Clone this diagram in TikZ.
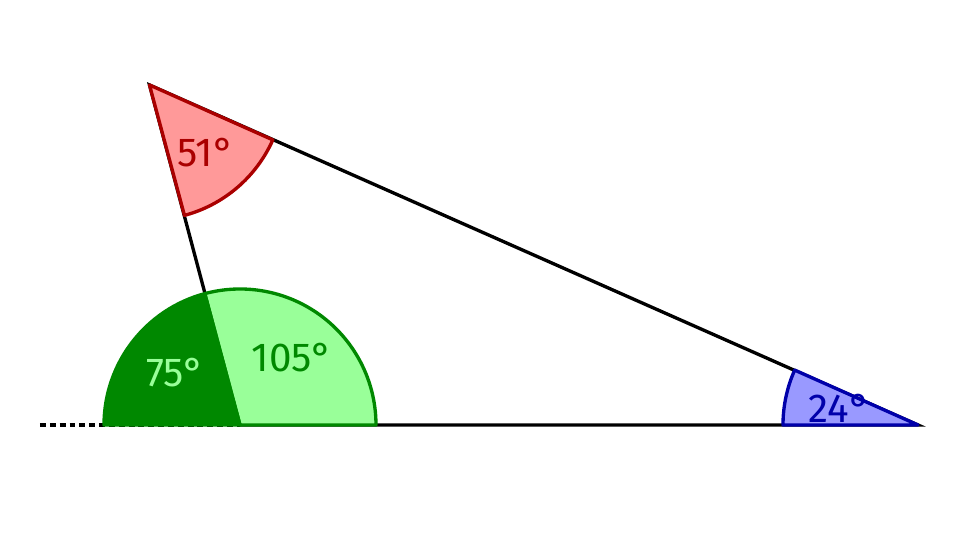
\documentclass[tikz,border=0pt]{standalone}
\usepackage{fontspec}
\setmainfont{Fira Sans}
\usepackage{tikz}
\usetikzlibrary{calc}
\definecolor{myred}{RGB}{170,0,0}
\definecolor{mylightred}{RGB}{255,153,153}
\definecolor{mygreen}{RGB}{0,136,0}
\definecolor{mylightgreen}{RGB}{153,255,153}
\definecolor{myblue}{RGB}{0,0,170}
\definecolor{mylightblue}{RGB}{153,153,255}
\tikzset{
  side/.style={line width=0.95pt,black},
  sector/.style={line width=0.95pt,line join=round},
  anglabel/.style={font=\fontsize{11.5}{13}\selectfont,inner sep=0pt}
}
\begin{document}
\begin{tikzpicture}
            \useasboundingbox (0,0) rectangle (9.6,5.4);
            \coordinate (A) at (2.40,1.15);
            \coordinate (B) at (9.18,1.15);
            \coordinate (C) at (1.495,4.55);
            \coordinate (far) at (0.40,1.15);
            \draw[side,dash pattern=on 1.7pt off 1.1pt] (far)--(A);
            \draw[side] (A)--(B)--(C)--cycle;
            \draw[sector,draw=mygreen,fill=mylightgreen] (A)--++(0:1.36) arc[start angle=0, end angle=105, radius=1.36]--cycle;
            \draw[sector,draw=mygreen,fill=mygreen] (A)--++(105:1.36) arc[start angle=105, end angle=180, radius=1.36]--cycle;
            \draw[sector,draw=myred,fill=mylightred] (C)--++(-75:1.35) arc[start angle=-75, end angle=-24, radius=1.35]--cycle;
            \draw[sector,draw=myblue,fill=mylightblue] (B)--++(180:1.35) arc[start angle=180, end angle=156, radius=1.35]--cycle;
            \node[anglabel,text=mygreen] (big) at ($(A)+(52:0.85)$) {105°};
            \node[anglabel,text=mylightgreen] (ext) at ($(A)+(141:0.83)$) {75°};
            \node[anglabel,text=myred] (top) at ($(C)+(-50:0.88)$) {51°};
            \node[anglabel,text=myblue] (right) at ($(B)+(168:0.80)$) {24°};
        \end{tikzpicture}
\end{document}
